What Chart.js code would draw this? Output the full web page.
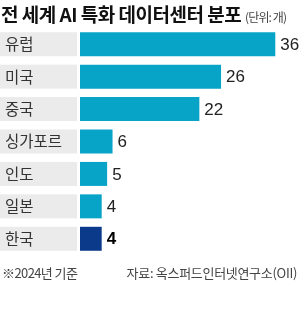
<!DOCTYPE html>
<html>
<head>
<meta charset="utf-8">
<script src="https://cdn.jsdelivr.net/npm/chart.js@4"></script>
<style>
  body { margin: 0; background: #fff; }
  #wrap { position: relative; width: 300px; height: 318px; overflow: hidden; }
  #title { position: absolute; left: 1px; top: 2px; white-space: nowrap;
    font-family: "Noto Sans CJK KR", sans-serif; font-weight: 700; font-size: 19px;
    letter-spacing: -0.5px; color: #111; line-height: 24px; }
  #title span { font-weight: 400; font-size: 12px; color: #444; letter-spacing: -0.9px; }
  .foot { position: absolute; top: 264px; white-space: nowrap;
    font-family: "Noto Sans CJK KR", sans-serif; font-size: 13px; color: #444;
    line-height: 18px; }
  #note { left: 2px; letter-spacing: -0.6px; }
  #src { right: 3px; letter-spacing: -0.3px; }
  canvas { position: absolute; left: 0; top: 0; }
</style>
</head>
<body>
<div id="wrap">
  <canvas id="chart" width="300" height="318"></canvas>
  <div id="title">전 세계 AI 특화 데이터센터 분포 <span>(단위: 개)</span></div>
  <div class="foot" id="note">※2024년 기준</div>
  <div class="foot" id="src">자료: 옥스퍼드인터넷연구소(OII)</div>
</div>
<script>
// 국가별 AI 특화 데이터센터 수
const countries = ['유럽', '미국', '중국', '싱가포르', '인도', '일본', '한국'];
const centers = [36, 26, 22, 6, 5, 4, 4];
const barColors = ['#07a4c8', '#07a4c8', '#07a4c8', '#07a4c8', '#07a4c8', '#07a4c8', '#0b3a8a'];

// 라벨 뒤 회색 박스
const labelBoxes = {
  id: 'labelBoxes',
  beforeDraw(chart) {
    const ctx = chart.ctx;
    const meta = chart.getDatasetMeta(0);
    ctx.save();
    ctx.fillStyle = '#ebebeb';
    meta.data.forEach(bar => {
      ctx.fillRect(0, bar.y - bar.height / 2, 77, bar.height);
    });
    ctx.restore();
  }
};

// 막대 끝 값 표시
const valueLabels = {
  id: 'valueLabels',
  afterDatasetsDraw(chart) {
    const ctx = chart.ctx;
    const meta = chart.getDatasetMeta(0);
    ctx.save();
    ctx.textBaseline = 'middle';
    ctx.textAlign = 'left';
    meta.data.forEach((bar, i) => {
      const last = i === centers.length - 1;
      ctx.font = (last ? 'bold ' : '') + '17px "Liberation Sans Narrow", "Liberation Sans", sans-serif';
      ctx.fillStyle = last ? '#000' : '#222';
      ctx.fillText(centers[i], bar.x + 5, bar.y + 1);
    });
    ctx.restore();
  }
};

new Chart(document.getElementById('chart'), {
  type: 'bar',
  data: {
    labels: countries,
    datasets: [{
      data: centers,
      backgroundColor: barColors,
      barPercentage: 0.74,
      categoryPercentage: 1.0,
    }]
  },
  options: {
    indexAxis: 'y',
    responsive: false,
    animation: false,
    events: [],
    layout: { padding: { top: 28, bottom: 63, left: 5, right: 3 } },
    plugins: {
      legend: { display: false },
      tooltip: { enabled: false },
    },
    scales: {
      x: {
        display: false,
        min: 0,
        max: 40,
      },
      y: {
        grid: { display: false },
        border: { display: false },
        afterFit(scale) { scale.width = 75; },
        ticks: {
          crossAlign: 'far',
          color: '#333',
          font: { family: '"Noto Sans CJK KR", sans-serif', size: 15.5 },
        }
      }
    }
  },
  plugins: [labelBoxes, valueLabels]
});
</script>
</body>
</html>
